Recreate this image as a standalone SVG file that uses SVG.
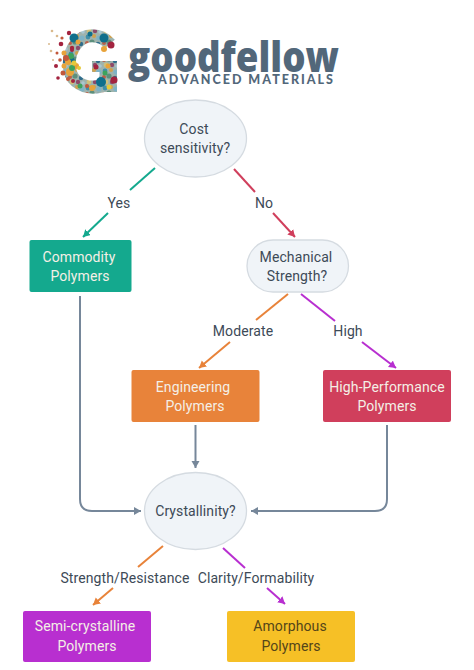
<svg xmlns="http://www.w3.org/2000/svg" width="474" height="670" viewBox="0 0 474 670">
<style>
text{font-family:"Roboto","Noto Sans",sans-serif;font-size:14px;text-anchor:middle;letter-spacing:.1px}
.dark{fill:#3d4a57}.lt{fill:#f4efe6}
.dec{fill:#f0f4f8;stroke:#d5dbe1;stroke-width:1.3}
.box{stroke:none}
.c{fill:none;stroke-width:2}
#logo text{fill:#52677a;font-weight:700;text-anchor:start;letter-spacing:0}
</style>
<defs>
<marker id="ag" markerUnits="userSpaceOnUse" markerWidth="10" markerHeight="10" refX="7" refY="4" orient="auto"><path d="M0 0L7 4L0 8Z" fill="#14a98e"/></marker>
<marker id="ar" markerUnits="userSpaceOnUse" markerWidth="10" markerHeight="10" refX="7" refY="4" orient="auto"><path d="M0 0L7 4L0 8Z" fill="#d03f5c"/></marker>
<marker id="ao" markerUnits="userSpaceOnUse" markerWidth="10" markerHeight="10" refX="7" refY="4" orient="auto"><path d="M0 0L7 4L0 8Z" fill="#e8833a"/></marker>
<marker id="ap" markerUnits="userSpaceOnUse" markerWidth="10" markerHeight="10" refX="7" refY="4" orient="auto"><path d="M0 0L7 4L0 8Z" fill="#b82fd0"/></marker>
<marker id="as" markerUnits="userSpaceOnUse" markerWidth="10" markerHeight="10" refX="7" refY="4" orient="auto"><path d="M0 0L7 4L0 8Z" fill="#76879a"/></marker>
<pattern id="dots" patternUnits="userSpaceOnUse" width="17" height="17">
<rect width="17" height="17" fill="#9fb3ad"/>
<circle cx="3" cy="3" r="2.400" fill="#3f8fa8"/><circle cx="9" cy="2" r="2" fill="#d0a24e"/><circle cx="14" cy="4" r="2.600" fill="#7eb3c6"/>
<circle cx="2" cy="9" r="2" fill="#b8604a"/><circle cx="7" cy="8" r="2.600" fill="#5c8f7c"/><circle cx="13" cy="10" r="2.200" fill="#2f6d8c"/>
<circle cx="4" cy="14" r="2.400" fill="#cfc07a"/><circle cx="10" cy="14" r="2.200" fill="#8c4a6a"/><circle cx="15" cy="15" r="1.800" fill="#a9c7d2"/>
</pattern>
</defs>
<rect width="474" height="670" fill="#fff"/>
<g id="logo">
<g id="logo-g">
<path d="M110 44C100 33 84 33 76 44C67 55 67 73 76 81C85 89 96 88 106 85V66" fill="none" stroke="url(#dots)" stroke-width="13"/>
<rect x="92" y="61" width="25" height="11" fill="url(#dots)"/>
<rect x="100" y="70" width="17" height="22" fill="url(#dots)"/>
<g fill="#0f6f8c"><circle cx="74" cy="38" r="4.500"/><circle cx="104" cy="38" r="4.500"/><circle cx="101" cy="82" r="5"/><circle cx="72" cy="60" r="2.500"/><circle cx="90" cy="34" r="2.500"/></g>
<g fill="#a3233f"><circle cx="69" cy="33" r="2.200"/><circle cx="61" cy="44" r="2.300"/><circle cx="72" cy="48" r="2.200"/><circle cx="111" cy="45" r="3.500"/><circle cx="72" cy="50" r="2"/><circle cx="56" cy="66" r="2"/><circle cx="58" cy="78" r="1.800"/><circle cx="114" cy="80" r="3.500"/><circle cx="73" cy="81" r="2"/><circle cx="96" cy="67" r="2.500"/></g>
<g fill="#e8a33a"><circle cx="78" cy="42" r="2.500"/><circle cx="104" cy="49" r="3"/><circle cx="64" cy="53" r="2.500"/><circle cx="70" cy="72" r="4"/><circle cx="68" cy="62" r="3"/><circle cx="92" cy="88" r="3"/><circle cx="64" cy="66" r="2.500"/><circle cx="76" cy="66" r="3"/><circle cx="108" cy="66" r="2.500"/></g>
<g fill="#3da35d"><circle cx="71" cy="56" r="3"/><circle cx="72" cy="68" r="3"/><circle cx="105" cy="73" r="2.500"/><circle cx="80" cy="86" r="2.500"/></g>
<g fill="#c2573a"><circle cx="66" cy="58" r="3"/><circle cx="60" cy="60" r="1.800"/><circle cx="63" cy="73" r="2.500"/><circle cx="68" cy="79" r="2"/><circle cx="87" cy="86" r="2"/><circle cx="62" cy="38" r="1.600"/><circle cx="57" cy="53" r="1.500"/></g>
<g fill="#e6c93a"><circle cx="79" cy="68" r="2"/><circle cx="109" cy="87" r="2.500"/><circle cx="74" cy="63" r="2.500"/></g>
<g fill="#d9b98c"><circle cx="52" cy="31" r="1.300"/><circle cx="57" cy="36" r="1.300"/><circle cx="51" cy="51" r="1.300"/><circle cx="49" cy="44" r="1"/><circle cx="53" cy="60" r="1"/></g>
</g>
<text x="128" y="72" style="font-family:'Open Sans',sans-serif;font-size:42px;font-weight:800" textLength="211" lengthAdjust="spacingAndGlyphs">goodfellow</text>
<text x="158" y="84" style="font-family:'Lato',sans-serif;font-size:12.500px;font-weight:900" textLength="175">ADVANCED MATERIALS</text>
</g>
<g id="connectors">
<path class="c" stroke="#14a98e" d="M155 168L130 190"/>
<path class="c" stroke="#14a98e" d="M108 213L83 237" marker-end="url(#ag)"/>
<path class="c" stroke="#d03f5c" d="M234 169L255 192"/>
<path class="c" stroke="#d03f5c" d="M273 213L295 237" marker-end="url(#ar)"/>
<path class="c" stroke="#e8833a" d="M288 294L256 320"/>
<path class="c" stroke="#e8833a" d="M230 342L199 368" marker-end="url(#ao)"/>
<path class="c" stroke="#b82fd0" d="M301 294L335 321"/>
<path class="c" stroke="#b82fd0" d="M362 342L396 368" marker-end="url(#ap)"/>
<path class="c" stroke="#76879a" d="M80 296V499Q80 511 92 511H141" marker-end="url(#as)"/>
<path class="c" stroke="#76879a" d="M195.500 425V468" marker-end="url(#as)"/>
<path class="c" stroke="#76879a" d="M387 425V499Q387 511 375 511H251" marker-end="url(#as)"/>
<path class="c" stroke="#e8833a" d="M163 546L138 567"/>
<path class="c" stroke="#e8833a" d="M113 588L93 605" marker-end="url(#ao)"/>
<path class="c" stroke="#b82fd0" d="M223 548L245 568"/>
<path class="c" stroke="#b82fd0" d="M267 588L285 604" marker-end="url(#ap)"/>
</g>
<g id="edge-labels">
<text class="dark" x="119" y="208">Yes</text>
<text class="dark" x="264" y="208">No</text>
<text class="dark" x="243" y="336">Moderate</text>
<text class="dark" x="348" y="336">High</text>
<text class="dark" x="125" y="583">Strength/Resistance</text>
<text class="dark" x="256" y="583">Clarity/Formability</text>
</g>
<g id="cost"><ellipse class="dec" cx="195.500" cy="138.500" rx="51" ry="38.500"/><text class="dark" x="194" y="134">Cost</text><text class="dark" x="195" y="153">sensitivity?</text></g>
<g id="commodity"><rect class="box" x="29.500" y="240" width="102" height="52" rx="2" fill="#14a98e"/><text class="lt" x="79" y="262">Commodity</text><text class="lt" x="80" y="281">Polymers</text></g>
<g id="mechanical"><rect class="dec" x="247" y="240" width="101.500" height="52" rx="26"/><text class="dark" x="296" y="262">Mechanical</text><text class="dark" x="297" y="281">Strength?</text></g>
<g id="engineering"><rect class="box" x="131.500" y="370" width="128" height="52" rx="2" fill="#e8833a"/><text class="lt" x="193" y="392">Engineering</text><text class="lt" x="195" y="411">Polymers</text></g>
<g id="high-performance"><rect class="box" x="323" y="370" width="128" height="52" rx="2" fill="#d03f5c"/><text class="lt" x="387" y="392">High-Performance</text><text class="lt" x="387" y="411">Polymers</text></g>
<g id="crystallinity"><ellipse class="dec" cx="195.500" cy="511" rx="51" ry="38.500"/><text class="dark" x="195.500" y="516">Crystallinity?</text></g>
<g id="semi"><rect class="box" x="23" y="611" width="128" height="51" rx="2" fill="#b82fd0"/><text class="lt" x="85" y="631">Semi-crystalline</text><text class="lt" x="87" y="651">Polymers</text></g>
<g id="amorphous"><rect class="box" x="227" y="611" width="128" height="51" rx="2" fill="#f6c026"/><text x="290" y="631" fill="#544519">Amorphous</text><text x="291" y="651" fill="#544519">Polymers</text></g>
</svg>
